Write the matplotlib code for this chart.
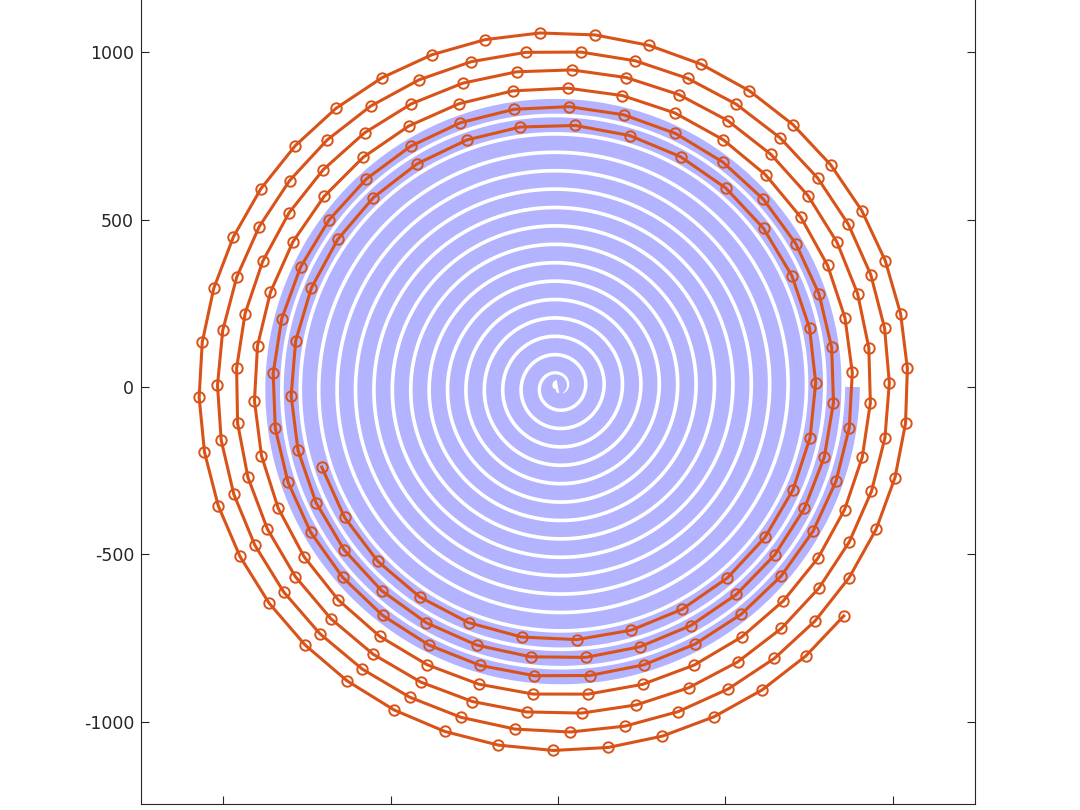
import numpy as np
import matplotlib.pyplot as plt

# Archimedean spiral, r = pitch * turns
pitch = 55.0
fill_turns = 16.0                 # light blue band: centre out to r = 880
path_turns = [13.552, 19.8925]    # orange path: first and last vertex
path_points = 223                 # vertices (markers) on the orange path
lims = [-1246, 1246]
xticks = [-1000, -500, 0, 500, 1000]
yticks = [-1000, -500, 0, 500, 1000]
ytick_labels = ['-1000', '-500', '0', '500', '1000']

blue = '#b3b3ff'
orange = '#d95319'
axcol = '#262626'


def spiral(t):
    th = 2 * np.pi * t
    r = pitch * t
    return r * np.cos(th), r * np.sin(th)


fig = plt.figure(figsize=(10.8, 8.1), dpi=100)
ax = fig.add_axes([141 / 1080, 6 / 810, 834 / 1080, 834 / 810])

# thick blue band
t = np.linspace(0, fill_turns, 12000)
bx, by = spiral(t)
ax.plot(bx, by, color=blue, lw=10.6, solid_capstyle='butt',
        solid_joinstyle='round', zorder=1)

# orange path, vertices equally spaced along the curve
td = np.linspace(path_turns[0], path_turns[1], 20000)
dx, dy = spiral(td)
s = np.concatenate([[0], np.cumsum(np.hypot(np.diff(dx), np.diff(dy)))])
sv = np.linspace(0, s[-1], path_points)
px = np.interp(sv, s, dx)
py = np.interp(sv, s, dy)
ax.plot(px, py, color=orange, lw=2.2, marker='o', ms=7.5, mfc='none',
        mec=orange, mew=1.4, zorder=2)

ax.set_xlim(lims)
ax.set_ylim(lims)
ax.set_aspect('equal')
ax.set_xticks(xticks)
ax.set_yticks(yticks)
ax.set_yticklabels(ytick_labels)
ax.tick_params(direction='in', length=6, width=0.8, colors=axcol,
               labelsize=12.5, right=True, top=False, labelbottom=False, pad=5)
for k in ['left', 'right', 'bottom']:
    ax.spines[k].set_color(axcol)
    ax.spines[k].set_linewidth(0.8)
ax.spines['top'].set_visible(False)

fig.savefig('out.png', dpi=100)
